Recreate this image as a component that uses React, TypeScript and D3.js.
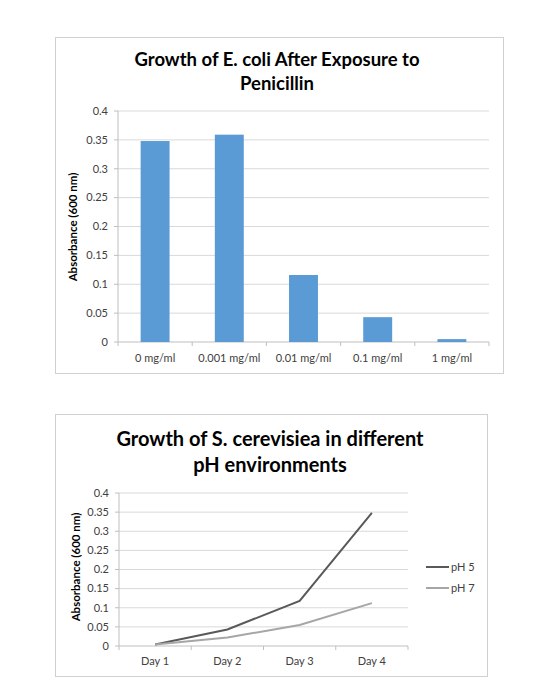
import React, { useEffect, useRef } from "react";
import * as d3 from "d3";

const doses = ["0 mg/ml", "0.001 mg/ml", "0.01 mg/ml", "0.1 mg/ml", "1 mg/ml"];
const growth = [0.348, 0.359, 0.116, 0.043, 0.005];

const days = ["Day 1", "Day 2", "Day 3", "Day 4"];
const ph5 = [0.004, 0.043, 0.118, 0.348];
const ph7 = [0.004, 0.022, 0.055, 0.112];
const phNames = ["pH 5", "pH 7"];

const yTicks = [0, 0.05, 0.1, 0.15, 0.2, 0.25, 0.3, 0.35, 0.4];

const FONT = "Lato, 'Open Sans', sans-serif";
const GRID = "#d9d9d9";
const AXIS = "#bfbfbf";
const TXT = "#404040";

const App: React.FC = () => {
  const svgRef = useRef<SVGSVGElement | null>(null);

  useEffect(() => {
    const svg = d3.select(svgRef.current);
    svg.selectAll("*").remove();
    svg.append("rect").attr("width", 556).attr("height", 700).attr("fill", "#fff");

    // common y axis drawing
    const drawY = (g: any, y: d3.ScaleLinear<number, number>, x0: number, x1: number) => {
      g.selectAll(".grid")
        .data(yTicks.filter((t) => t > 0))
        .enter()
        .append("line")
        .attr("x1", x0)
        .attr("x2", x1)
        .attr("y1", (d: number) => y(d))
        .attr("y2", (d: number) => y(d))
        .attr("stroke", GRID)
        .attr("stroke-width", 1);
      g.selectAll(".ytick")
        .data(yTicks)
        .enter()
        .append("line")
        .attr("x1", x0 - 4)
        .attr("x2", x0)
        .attr("y1", (d: number) => y(d))
        .attr("y2", (d: number) => y(d))
        .attr("stroke", AXIS);
      g.selectAll(".ylab")
        .data(yTicks)
        .enter()
        .append("text")
        .attr("x", x0 - 10)
        .attr("y", (d: number) => y(d))
        .attr("dy", "0.35em")
        .attr("text-anchor", "end")
        .attr("font-size", 11)
        .attr("font-family", FONT)
        .attr("fill", TXT)
        .text((d: number) => d3.format("~g")(d));
      g.append("line")
        .attr("x1", x0)
        .attr("x2", x0)
        .attr("y1", y(0.4))
        .attr("y2", y(0))
        .attr("stroke", AXIS);
      g.append("line")
        .attr("x1", x0)
        .attr("x2", x1)
        .attr("y1", y(0))
        .attr("y2", y(0))
        .attr("stroke", AXIS);
    };

    const title = (g: any, lines: string[], cx: number, y0: number, gap: number, size: number) => {
      lines.forEach((t, i) => {
        g.append("text")
          .attr("x", cx)
          .attr("y", y0 + i * gap)
          .attr("dy", "0.35em")
          .attr("text-anchor", "middle")
          .attr("font-size", size)
          .attr("font-weight", "bold")
          .attr("font-family", FONT)
          .attr("fill", "#000")
          .text(t);
      });
    };

    const yTitle = (g: any, x: number, cy: number) => {
      g.append("text")
        .attr("transform", `translate(${x},${cy}) rotate(-90)`)
        .attr("dy", "0.35em")
        .attr("text-anchor", "middle")
        .attr("font-size", 11.5)
        .attr("font-weight", "bold")
        .attr("font-family", FONT)
        .attr("fill", "#000")
        .text("Absorbance (600 nm)");
    };

    // ---------- chart 1: bars
    const g1 = svg.append("g");
    g1.append("rect")
      .attr("x", 55.5)
      .attr("y", 37.5)
      .attr("width", 448)
      .attr("height", 336)
      .attr("fill", "#fff")
      .attr("stroke", "#d0d0d0");
    title(g1, ["Growth of E. coli After Exposure to", "Penicillin"], 277, 60, 24, 18.5);

    const x1 = d3.scaleBand<string>().domain(doses).range([118, 489]).paddingInner(0.61).paddingOuter(0.305);
    const band1 = d3.scaleBand<string>().domain(doses).range([118, 489]);
    const y1 = d3.scaleLinear().domain([0, 0.4]).range([342, 111]);
    drawY(g1, y1, 118, 489);

    g1.selectAll(".bar")
      .data(growth)
      .enter()
      .append("rect")
      .attr("x", (_: number, i: number) => x1(doses[i]) as number)
      .attr("width", x1.bandwidth())
      .attr("y", (d: number) => y1(d))
      .attr("height", (d: number) => y1(0) - y1(d))
      .attr("fill", "#5b9bd5");

    g1.selectAll(".xtick")
      .data(doses.concat([""]))
      .enter()
      .append("line")
      .attr("x1", (_: string, i: number) => 118 + i * band1.step())
      .attr("x2", (_: string, i: number) => 118 + i * band1.step())
      .attr("y1", y1(0))
      .attr("y2", y1(0) + 4)
      .attr("stroke", AXIS);

    g1.selectAll(".xlab")
      .data(doses)
      .enter()
      .append("text")
      .attr("x", (d: string) => (band1(d) as number) + band1.bandwidth() / 2)
      .attr("y", 358)
      .attr("dy", "0.35em")
      .attr("text-anchor", "middle")
      .attr("font-size", 11)
      .attr("font-family", FONT)
      .attr("fill", TXT)
      .text((d: string) => d);
    yTitle(g1, 73, 227);

    // ---------- chart 2: lines
    const g2 = svg.append("g");
    g2.append("rect")
      .attr("x", 55.5)
      .attr("y", 414.5)
      .attr("width", 432)
      .attr("height", 262)
      .attr("fill", "#fff")
      .attr("stroke", "#d0d0d0");
    title(g2, ["Growth of S. cerevisiea in different", "pH environments"], 270, 439, 26, 20);

    const x2 = d3.scaleBand<string>().domain(days).range([119, 408]);
    const y2 = d3.scaleLinear().domain([0, 0.4]).range([646, 493]);
    drawY(g2, y2, 119, 408);

    g2.selectAll(".xtick")
      .data(days.concat([""]))
      .enter()
      .append("line")
      .attr("x1", (_: string, i: number) => 119 + i * x2.step())
      .attr("x2", (_: string, i: number) => 119 + i * x2.step())
      .attr("y1", y2(0))
      .attr("y2", y2(0) + 4)
      .attr("stroke", AXIS);

    g2.selectAll(".xlab")
      .data(days)
      .enter()
      .append("text")
      .attr("x", (d: string) => (x2(d) as number) + x2.bandwidth() / 2)
      .attr("y", 661)
      .attr("dy", "0.35em")
      .attr("text-anchor", "middle")
      .attr("font-size", 11)
      .attr("font-family", FONT)
      .attr("fill", TXT)
      .text((d: string) => d);

    const line = d3
      .line<number>()
      .x((_, i) => (x2(days[i]) as number) + x2.bandwidth() / 2)
      .y((d) => y2(d));

    const series = [ph5, ph7];
    const colors = ["#595959", "#a6a6a6"];
    series.forEach((s, k) => {
      g2.append("path")
        .attr("d", line(s) as string)
        .attr("fill", "none")
        .attr("stroke", colors[k])
        .attr("stroke-width", 2);
      const ly = 567 + k * 21;
      g2.append("line")
        .attr("x1", 426)
        .attr("x2", 449)
        .attr("y1", ly)
        .attr("y2", ly)
        .attr("stroke", colors[k])
        .attr("stroke-width", 2);
      g2.append("text")
        .attr("x", 451)
        .attr("y", ly)
        .attr("dy", "0.35em")
        .attr("font-size", 11)
        .attr("font-family", FONT)
        .attr("fill", TXT)
        .text(phNames[k]);
    });
    yTitle(g2, 76, 567);
  }, []);

  return (
    <div style={{ position: "absolute", left: 0, top: 0, width: 556, height: 700 }}>
      <svg ref={svgRef} width={556} height={700}></svg>
    </div>
  );
};

export default App;
